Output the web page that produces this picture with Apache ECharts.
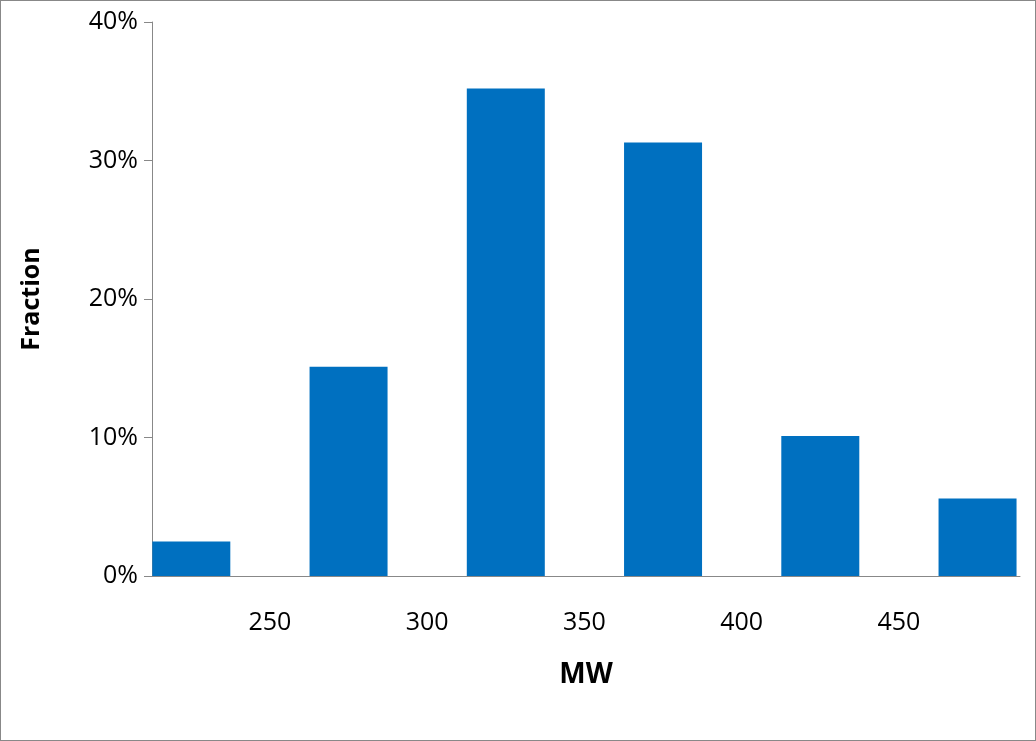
<!DOCTYPE html>
<html><head><meta charset="utf-8">
<script src="https://cdn.jsdelivr.net/npm/echarts@6/dist/echarts.min.js"></script>
<style>html,body{margin:0;padding:0;background:#fff}#c{width:1034px;height:739px;border:1px solid #888}</style>
</head><body><div id="c"></div>
<script>
// bin centres (MW) and fraction (%)
var binCentres = [225, 275, 325, 375, 425, 475];
var fractions = [2.5, 15.1, 35.2, 31.3, 10.1, 5.6];
var xTicks = [250, 300, 350, 400, 450];

var chart = echarts.init(document.getElementById('c'));
var font = 'Open Sans, Liberation Sans, sans-serif';
option = {
    animation: false,
    grid: { left: 151, right: 15, top: 21, bottom: 164 },
    xAxis: {
        type: 'value', min: 212.5, max: 488.5,
        name: 'MW', nameLocation: 'middle', nameGap: 85,
        nameTextStyle: { fontFamily: font, fontSize: 28, fontWeight: 'bold', color: '#000' },
        axisLine: { show: true, lineStyle: { color: '#888' } },
        axisTick: { show: false },
        splitLine: { show: false },
        axisLabel: { customValues: xTicks, fontFamily: font, fontSize: 25, color: '#000', margin: 34 }
    },
    yAxis: {
        type: 'value', min: 0, max: 40, interval: 10,
        name: 'Fraction', nameLocation: 'middle', nameGap: 108, nameRotate: 90,
        nameTextStyle: { fontFamily: font, fontSize: 25, fontWeight: 'bold', color: '#000' },
        axisLine: { show: true, lineStyle: { color: '#888' } },
        axisTick: { show: true, length: 8, lineStyle: { color: '#888' } },
        splitLine: { show: false },
        axisLabel: { formatter: '{value}%', fontFamily: font, fontSize: 25, color: '#000', margin: 14 }
    },
    series: [{
        type: 'bar', barWidth: 78,
        itemStyle: { color: '#0070c0' },
        data: binCentres.map(function (x, i) { return [x, fractions[i]]; })
    }]
};
chart.setOption(option);
</script></body></html>
